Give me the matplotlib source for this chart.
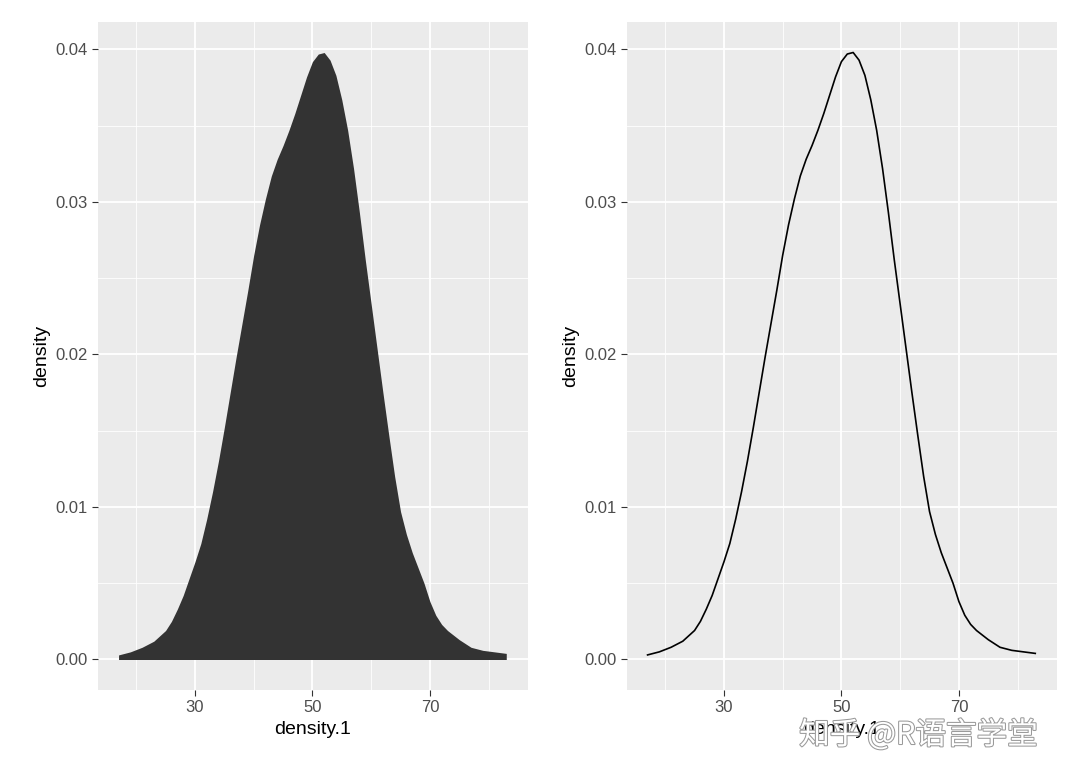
import matplotlib.pyplot as plt
import matplotlib.patheffects as pe
import numpy as np

plt.rcParams['font.family'] = ['Liberation Sans', 'Noto Sans CJK SC', 'DejaVu Sans']

dens_x = [17, 19, 21, 23, 25, 26, 27, 28, 29, 30, 31, 32, 33, 34, 35, 36, 37, 38, 39,
          40, 41, 42, 43, 44, 45, 46, 47, 48, 49, 50, 51, 52, 53, 54, 55, 56, 57, 58,
          59, 60, 61, 62, 63, 64, 65, 66, 67, 68, 69, 70, 71, 72, 73, 75, 77, 79, 81, 83]
dens_y = [0.0003, 0.0005, 0.0008, 0.0012, 0.0019, 0.0025, 0.0033, 0.0042, 0.0053,
          0.0064, 0.0076, 0.0092, 0.011, 0.013, 0.0152, 0.0175, 0.0198, 0.022, 0.0242,
          0.0265, 0.0285, 0.0302, 0.0317, 0.0328, 0.0337, 0.0347, 0.0358, 0.037, 0.0382,
          0.0392, 0.0397, 0.0398, 0.0393, 0.0383, 0.0367, 0.0347, 0.0322, 0.0293, 0.0262,
          0.0233, 0.0204, 0.0175, 0.0147, 0.012, 0.0097, 0.0082, 0.007, 0.006, 0.005,
          0.0038, 0.0029, 0.0023, 0.0019, 0.0013, 0.0008, 0.0006, 0.0005, 0.0004]
x_ticks = [30, 50, 70]
y_ticks = [0.0, 0.01, 0.02, 0.03, 0.04]
y_labels = ["0.00", "0.01", "0.02", "0.03", "0.04"]

fig = plt.figure(figsize=(10.8, 7.71), dpi=100)
boxes = [(98, 528), (627, 1057)]
axes = []
for left, right in boxes:
    ax = fig.add_axes([left / 1080, 1 - 690 / 771, (right - left) / 1080, 668 / 771])
    ax.set_facecolor("#ebebeb")
    for s in ax.spines.values():
        s.set_visible(False)
    ax.set_xlim(13.5, 86.7)
    ax.set_ylim(-0.002, 0.0418)
    ax.set_xticks(x_ticks)
    ax.set_xticks([20, 40, 60, 80], minor=True)
    ax.set_yticks(y_ticks)
    ax.set_yticklabels(y_labels)
    ax.set_yticks([0.005, 0.015, 0.025, 0.035], minor=True)
    ax.grid(True, which="major", color="white", linewidth=1.3)
    ax.grid(True, which="minor", color="white", linewidth=0.6)
    ax.set_axisbelow(True)
    ax.tick_params(which="both", length=4, color="#333333", labelsize=12, labelcolor="#4d4d4d")
    ax.tick_params(which="minor", length=0)
    ax.set_xlabel("density.1", fontsize=14, labelpad=4)
    ax.set_ylabel("density", fontsize=14, labelpad=4)
    axes.append(ax)

axes[0].fill_between(dens_x, dens_y, color="#333333", linewidth=0)
axes[1].plot(dens_x, dens_y, color="black", linewidth=1.2)

# watermark over the bottom-right corner, as in the source image
fig.text(0.74, 0.035, "知乎 @R语言学堂", color="white", fontsize=22, zorder=10,
         family=['Noto Sans CJK SC', 'DejaVu Sans'],
         path_effects=[pe.withStroke(linewidth=1.5, foreground="#9a9a9a")])

fig.savefig("out.png", dpi=100)
